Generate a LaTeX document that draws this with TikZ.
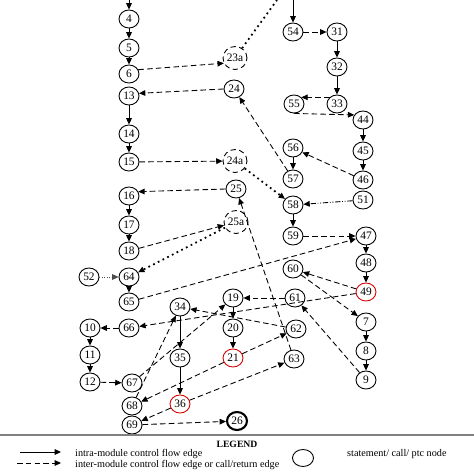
\documentclass[tikz,border=0pt]{standalone}
\usepackage{fontspec}
\setmainfont{Liberation Serif}
\usetikzlibrary{arrows.meta, shapes.geometric}

\begin{document}
\begin{tikzpicture}[x=0.02cm, y=-0.02cm, >={Triangle[length=3.6pt,width=3.2pt]},
                    font=\fontsize{6.5}{7}\selectfont]

    \tikzstyle{stmt node} = [ellipse, draw, line width=0.5pt, minimum width=0.4cm, minimum height=0.36cm, inner sep=0pt];
    \tikzstyle{ptc node}  = [stmt node, densely dashed, minimum width=0.48cm, minimum height=0.46cm];
    \tikzstyle{hit node}  = [stmt node, draw=red!85!black];
    \tikzstyle{exit node} = [stmt node, line width=1.2pt];
    \tikzstyle{intra}     = [->, line width=0.5pt];
    \tikzstyle{inter}     = [->, line width=0.5pt, dash pattern=on 3.2pt off 1.8pt];
    \tikzstyle{link}      = [->, line width=1pt, dotted];
    \tikzstyle{legend text} = [anchor=west, font=\fontsize{5.8}{6.5}\selectfont];

    \useasboundingbox (0,0) rectangle (474,474);

    % Left column
    \node[stmt node] (n4)  at (129,19)  {4};
    \node[stmt node] (n5)  at (129,48)  {5};
    \node[stmt node] (n6)  at (129,74)  {6};
    \node[stmt node] (n13) at (129,96)  {13};
    \node[stmt node] (n14) at (129,134) {14};
    \node[stmt node] (n15) at (129,162) {15};
    \node[stmt node] (n16) at (129,196) {16};
    \node[stmt node] (n17) at (129,225) {17};
    \node[stmt node] (n18) at (129,251) {18};
    \node[stmt node] (n64) at (129,277) {64};
    \node[stmt node] (n65) at (129,302) {65};
    \node[stmt node] (n52) at (89,277)  {52};
    \node[stmt node] (n66) at (129,328) {66};
    \node[stmt node] (n10) at (90,328)  {10};
    \node[stmt node] (n11) at (90,355)  {11};
    \node[stmt node] (n12) at (90,382)  {12};
    \node[stmt node] (n67) at (132,383) {67};
    \node[stmt node] (n68) at (132,406) {68};
    \node[stmt node] (n69) at (132,425) {69};

    % Middle columns
    \node[ptc node]  (n23a) at (235,58)  {23a};
    \node[stmt node] (n24)  at (234,89)  {24};
    \node[ptc node]  (n24a) at (235,161) {24a};
    \node[stmt node] (n25)  at (236,189) {25};
    \node[ptc node]  (n25a) at (236,222) {25a};
    \node[stmt node] (n34)  at (180,307) {34};
    \node[stmt node] (n35)  at (180,358) {35};
    \node[hit node]  (n36)  at (180,404) {36};
    \node[stmt node] (n19)  at (233,298) {19};
    \node[stmt node] (n20)  at (233,328) {20};
    \node[hit node]  (n21)  at (233,358) {21};
    \node[exit node] (n26)  at (237,421) {26};

    % Right columns
    \node[stmt node] (n54) at (293,32)  {54};
    \node[stmt node] (n55) at (294,104) {55};
    \node[stmt node] (n56) at (293,148) {56};
    \node[stmt node] (n57) at (293,179) {57};
    \node[stmt node] (n58) at (293,205) {58};
    \node[stmt node] (n59) at (293,236) {59};
    \node[stmt node] (n60) at (293,269) {60};
    \node[stmt node] (n61) at (295,298) {61};
    \node[stmt node] (n62) at (296,329) {62};
    \node[stmt node] (n63) at (294,359) {63};
    \node[stmt node] (n31) at (337,32)  {31};
    \node[stmt node] (n32) at (337,67)  {32};
    \node[stmt node] (n33) at (337,104) {33};
    \node[stmt node] (n44) at (363,120) {44};
    \node[stmt node] (n45) at (363,151) {45};
    \node[stmt node] (n46) at (363,180) {46};
    \node[stmt node] (n51) at (363,200) {51};
    \node[stmt node] (n47) at (366,236) {47};
    \node[stmt node] (n48) at (366,263) {48};
    \node[hit node]  (n49) at (366,292) {49};
    \node[stmt node] (n7)  at (366,322) {7};
    \node[stmt node] (n8)  at (366,351) {8};
    \node[stmt node] (n9)  at (366,380) {9};

    \coordinate (top4)  at (129,0);
    \coordinate (top54) at (293,0);
    \coordinate (top23) at (277,0);

    % intra-module edges
    \draw [intra] (top4) -- (n4);
    \draw [intra] (n4) -- (n5);
    \draw [intra] (n5) -- (n6);
    \draw [intra] (n13) -- (n14);
    \draw [intra] (n14) -- (n15);
    \draw [intra] (n16) -- (n17);
    \draw [intra] (n17) -- (n18);
    \draw [intra] (n64) -- (n65);
    \draw [intra] (n10) -- (n11);
    \draw [intra] (n11) -- (n12);
    \draw [intra] (n34) -- (n35);
    \draw [intra] (n35) -- (n36);
    \draw [intra] (n19) -- (n20);
    \draw [intra] (n20) -- (n21);
    \draw [intra] (top54) -- (n54);
    \draw [intra] (n31) -- (n32);
    \draw [intra] (n32) -- (n33);
    \draw [intra] (n44) -- (n45);
    \draw [intra] (n45) -- (n46);
    \draw [intra] (n56) -- (n57);
    \draw [intra] (n58) -- (n59);
    \draw [intra] (n47) -- (n48);
    \draw [intra] (n48) -- (n49);
    \draw [intra] (n7) -- (n8);
    \draw [intra] (n8) -- (n9);

    % inter-module and call/return edges
    \draw [inter] (n6.25) to (n23a.205);
    \draw [inter] (n24.west) to (n13.15);
    \draw [inter] (n15) to (n24a);
    \draw [inter] (n25.west) to (n16.25);
    \draw [inter] (n18) to (n25a);
    \draw [inter] (n54) to (n31);
    \draw [inter] (n33.north west) to (n55.north east);
    \draw [inter] (n55.south) to (n44.150);
    \draw [inter] (n46) to (n56);
    \draw [inter] (n57) to (n24);
    \draw [inter] (n59) to (n47);
    \draw [inter] (n65) to (n47);
    \draw [inter] (n49) to (n60);
    \draw [inter] (n60) to (n7);
    \draw [inter] (n49) to (n66);
    \draw [inter] (n61) to (n19);
    \draw [inter] (n62) to (n34);
    \draw [inter] (n63) to (n25);
    \draw [inter] (n9) to (n61);
    \draw [inter] (n21) to (n62);
    \draw [inter] (n21) to (n68);
    \draw [inter] (n36) to (n63);
    \draw [inter] (n36) to (n69);
    \draw [inter] (n69) to (n26);
    \draw [inter] (n66) to (n10);
    \draw [inter] (n12) to (n67);
    \draw [inter] (n67) to (n19);
    \draw [inter] (n68) to (n34);

    % other edges
    \draw [link] (n25a) to (n64);
    \draw [link] (n24a) to (n58);
    \draw [link, -] (n23a) to (top23);
    \draw [->, line width=0.4pt, densely dotted, black!70] (n52) to (n64);
    \draw [->, line width=0.5pt, dash pattern=on 3pt off 1pt on 0.5pt off 1pt on 0.5pt off 1pt] (n51) to (n58);

    % Legend
    \draw [black!50, line width=0.6pt] (0,435) -- (474,435);
    \node[font=\fontsize{5.5}{6}\bfseries\selectfont] (legend) at (237,444) {LEGEND};
    \coordinate (solidA) at (20,452);
    \coordinate (solidB) at (61,452);
    \coordinate (dashA)  at (17,463);
    \coordinate (dashB)  at (61,463);
    \draw [intra] (solidA) -- (solidB);
    \draw [inter] (dashA) -- (dashB);
    \node[legend text] (intratext) at (69,454) {intra-module control flow edge};
    \node[legend text] (intertext) at (69,465) {inter-module control flow edge or call/return edge};
    \node[stmt node, minimum width=0.42cm, minimum height=0.34cm] (legcircle) at (303,458) {};
    \node[legend text] (stmttext) at (341,454) {statement/ call/ ptc node};
\end{tikzpicture}
\end{document}
